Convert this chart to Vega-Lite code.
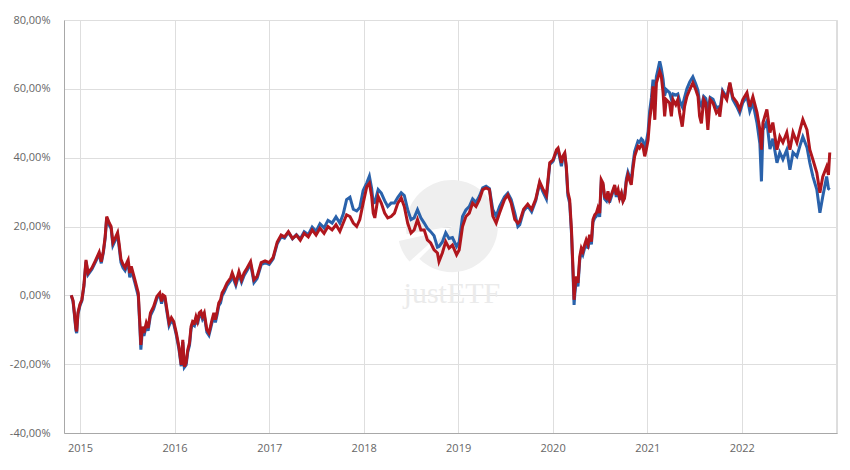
{
  "$schema": "https://vega.github.io/schema/vega-lite/v6.json",
  "width": 773,
  "height": 413,
  "autosize": {"type": "none"},
  "padding": {"left": 64, "top": 20, "right": 13, "bottom": 37},
  "background": "white",
  "config": {
    "view": {"stroke": "#dddddd", "strokeWidth": 1},
    "font": "Open Sans",
    "axis": {"labelFont": "Open Sans", "labelFontSize": 11, "labelColor": "#666666", "gridColor": "#dedede", "gridWidth": 1, "domainColor": "#a8a8a8", "ticks": false, "title": null}
  },
  "datasets": {
    "logo": [{"d": "2018-12-08", "v": 20.1}],
    "brand": [{"d": "2018-12-08", "v": -2.2, "t": "justETF"}],
    "perf": [
      {"d": "2014-11-28", "a": 0.0, "b": 0.0},
      {"d": "2014-12-05", "a": -1.8, "b": -1.5},
      {"d": "2014-12-10", "a": -5.5, "b": -5.0},
      {"d": "2014-12-16", "a": -10.2, "b": -9.5},
      {"d": "2014-12-19", "a": -11.0, "b": -10.5},
      {"d": "2014-12-24", "a": -5.5, "b": -5.0},
      {"d": "2015-01-01", "a": -2.9, "b": -2.5},
      {"d": "2015-01-08", "a": -1.6, "b": -1.3},
      {"d": "2015-01-16", "a": 2.6, "b": 3.0},
      {"d": "2015-01-24", "a": 9.8, "b": 10.3},
      {"d": "2015-02-01", "a": 6.0, "b": 6.5},
      {"d": "2015-02-16", "a": 7.6, "b": 8.0},
      {"d": "2015-03-01", "a": 9.6, "b": 10.0},
      {"d": "2015-03-16", "a": 12.0, "b": 12.5},
      {"d": "2015-03-24", "a": 9.3, "b": 9.8},
      {"d": "2015-04-01", "a": 12.4, "b": 12.8},
      {"d": "2015-04-08", "a": 16.5, "b": 17.0},
      {"d": "2015-04-14", "a": 22.5, "b": 22.9},
      {"d": "2015-04-24", "a": 20.3, "b": 21.0},
      {"d": "2015-05-01", "a": 19.4, "b": 20.0},
      {"d": "2015-05-08", "a": 14.5, "b": 15.3},
      {"d": "2015-05-16", "a": 15.8, "b": 16.5},
      {"d": "2015-05-26", "a": 17.6, "b": 18.2},
      {"d": "2015-06-01", "a": 14.0, "b": 15.0},
      {"d": "2015-06-08", "a": 9.6, "b": 10.5},
      {"d": "2015-06-16", "a": 8.0, "b": 9.0},
      {"d": "2015-06-24", "a": 7.2, "b": 8.0},
      {"d": "2015-07-01", "a": 8.6, "b": 9.5},
      {"d": "2015-07-06", "a": 9.5, "b": 10.3},
      {"d": "2015-07-12", "a": 5.2, "b": 6.5},
      {"d": "2015-07-18", "a": 7.5, "b": 8.4},
      {"d": "2015-08-01", "a": 3.6, "b": 4.5},
      {"d": "2015-08-14", "a": -0.2, "b": 0.7},
      {"d": "2015-08-20", "a": -9.0, "b": -8.0},
      {"d": "2015-08-24", "a": -15.8, "b": -14.4},
      {"d": "2015-08-30", "a": -10.0, "b": -9.1},
      {"d": "2015-09-05", "a": -11.8, "b": -10.9},
      {"d": "2015-09-14", "a": -8.8, "b": -8.0},
      {"d": "2015-09-21", "a": -10.3, "b": -9.5},
      {"d": "2015-09-30", "a": -5.9, "b": -5.1},
      {"d": "2015-10-12", "a": -4.0, "b": -3.3},
      {"d": "2015-10-25", "a": -0.9, "b": -0.3},
      {"d": "2015-11-05", "a": 0.2, "b": 0.7},
      {"d": "2015-11-12", "a": -2.4, "b": -1.8},
      {"d": "2015-11-18", "a": -0.5, "b": 0.1},
      {"d": "2015-11-25", "a": -0.9, "b": -0.3},
      {"d": "2015-12-01", "a": -4.0, "b": -3.3},
      {"d": "2015-12-11", "a": -8.8, "b": -8.0},
      {"d": "2015-12-20", "a": -7.2, "b": -6.5},
      {"d": "2015-12-29", "a": -8.3, "b": -7.6},
      {"d": "2016-01-08", "a": -11.6, "b": -10.9},
      {"d": "2016-01-18", "a": -15.6, "b": -14.9},
      {"d": "2016-01-27", "a": -20.6, "b": -20.2},
      {"d": "2016-02-02", "a": -13.6, "b": -12.9},
      {"d": "2016-02-08", "a": -20.9, "b": -20.7},
      {"d": "2016-02-15", "a": -20.2, "b": -19.6},
      {"d": "2016-02-21", "a": -16.6, "b": -15.9},
      {"d": "2016-02-28", "a": -14.5, "b": -13.8},
      {"d": "2016-03-05", "a": -9.8, "b": -9.1},
      {"d": "2016-03-11", "a": -8.3, "b": -7.6},
      {"d": "2016-03-18", "a": -8.8, "b": -8.0},
      {"d": "2016-03-24", "a": -6.9, "b": -6.2},
      {"d": "2016-03-30", "a": -8.4, "b": -7.6},
      {"d": "2016-04-06", "a": -5.8, "b": -5.1},
      {"d": "2016-04-12", "a": -5.3, "b": -4.7},
      {"d": "2016-04-18", "a": -6.9, "b": -6.2},
      {"d": "2016-04-25", "a": -5.8, "b": -5.1},
      {"d": "2016-05-05", "a": -10.7, "b": -10.0},
      {"d": "2016-05-13", "a": -11.6, "b": -10.9},
      {"d": "2016-05-19", "a": -9.8, "b": -9.1},
      {"d": "2016-05-25", "a": -7.9, "b": -7.1},
      {"d": "2016-06-01", "a": -5.9, "b": -5.1},
      {"d": "2016-06-07", "a": -7.9, "b": -7.1},
      {"d": "2016-06-14", "a": -5.5, "b": -4.7},
      {"d": "2016-06-20", "a": -3.0, "b": -2.2},
      {"d": "2016-06-27", "a": -2.2, "b": -1.3},
      {"d": "2016-07-03", "a": -0.1, "b": 0.7},
      {"d": "2016-07-10", "a": 0.8, "b": 1.6},
      {"d": "2016-07-16", "a": 1.8, "b": 2.6},
      {"d": "2016-07-22", "a": 2.8, "b": 3.6},
      {"d": "2016-08-05", "a": 4.3, "b": 5.1},
      {"d": "2016-08-11", "a": 5.8, "b": 6.5},
      {"d": "2016-08-25", "a": 2.9, "b": 3.6},
      {"d": "2016-09-06", "a": 6.1, "b": 6.9},
      {"d": "2016-09-16", "a": 3.8, "b": 4.5},
      {"d": "2016-09-26", "a": 5.8, "b": 6.5},
      {"d": "2016-10-08", "a": 7.3, "b": 8.0},
      {"d": "2016-10-21", "a": 9.1, "b": 9.8},
      {"d": "2016-10-27", "a": 6.7, "b": 7.4},
      {"d": "2016-11-03", "a": 3.7, "b": 4.5},
      {"d": "2016-11-15", "a": 4.9, "b": 5.5},
      {"d": "2016-12-01", "a": 8.9, "b": 9.5},
      {"d": "2016-12-16", "a": 9.5, "b": 10.0},
      {"d": "2017-01-01", "a": 9.0, "b": 9.5},
      {"d": "2017-01-16", "a": 10.6, "b": 11.0},
      {"d": "2017-02-01", "a": 15.0, "b": 15.5},
      {"d": "2017-02-16", "a": 17.0, "b": 17.5},
      {"d": "2017-03-01", "a": 16.6, "b": 17.0},
      {"d": "2017-03-16", "a": 18.3, "b": 18.5},
      {"d": "2017-04-01", "a": 16.4, "b": 16.5},
      {"d": "2017-04-16", "a": 17.6, "b": 17.5},
      {"d": "2017-05-01", "a": 16.4, "b": 16.0},
      {"d": "2017-05-16", "a": 18.5, "b": 18.0},
      {"d": "2017-06-01", "a": 17.6, "b": 17.0},
      {"d": "2017-06-16", "a": 19.8, "b": 19.0},
      {"d": "2017-07-01", "a": 18.6, "b": 17.5},
      {"d": "2017-07-16", "a": 20.8, "b": 19.5},
      {"d": "2017-08-01", "a": 19.6, "b": 18.0},
      {"d": "2017-08-16", "a": 21.8, "b": 20.0},
      {"d": "2017-09-01", "a": 21.0, "b": 19.0},
      {"d": "2017-09-16", "a": 22.8, "b": 20.5},
      {"d": "2017-10-01", "a": 21.0, "b": 18.6},
      {"d": "2017-10-14", "a": 23.6, "b": 21.0},
      {"d": "2017-10-27", "a": 27.8, "b": 23.4},
      {"d": "2017-11-09", "a": 28.5, "b": 22.9},
      {"d": "2017-11-22", "a": 25.0, "b": 21.0},
      {"d": "2017-12-05", "a": 24.5, "b": 20.0},
      {"d": "2017-12-17", "a": 25.5, "b": 22.0},
      {"d": "2017-12-30", "a": 30.5, "b": 26.8},
      {"d": "2018-01-13", "a": 32.7, "b": 31.6},
      {"d": "2018-01-23", "a": 34.6, "b": 32.6},
      {"d": "2018-02-01", "a": 31.0, "b": 28.7},
      {"d": "2018-02-07", "a": 26.8, "b": 23.9},
      {"d": "2018-02-13", "a": 27.0, "b": 22.5},
      {"d": "2018-02-26", "a": 30.7, "b": 28.7},
      {"d": "2018-03-10", "a": 29.7, "b": 26.8},
      {"d": "2018-03-23", "a": 27.5, "b": 23.9},
      {"d": "2018-04-04", "a": 25.8, "b": 22.5},
      {"d": "2018-04-17", "a": 26.8, "b": 22.9},
      {"d": "2018-04-30", "a": 26.8, "b": 23.9},
      {"d": "2018-05-13", "a": 28.5, "b": 26.8},
      {"d": "2018-05-26", "a": 29.8, "b": 28.3},
      {"d": "2018-06-07", "a": 29.0, "b": 25.8},
      {"d": "2018-06-20", "a": 24.9, "b": 21.0},
      {"d": "2018-07-03", "a": 22.0, "b": 18.1},
      {"d": "2018-07-15", "a": 22.5, "b": 19.0},
      {"d": "2018-07-28", "a": 24.9, "b": 22.0},
      {"d": "2018-08-10", "a": 22.5, "b": 19.0},
      {"d": "2018-08-23", "a": 21.0, "b": 19.0},
      {"d": "2018-09-04", "a": 19.5, "b": 16.1},
      {"d": "2018-09-17", "a": 18.5, "b": 15.2},
      {"d": "2018-09-30", "a": 17.3, "b": 13.2},
      {"d": "2018-10-13", "a": 14.0, "b": 12.3},
      {"d": "2018-10-19", "a": 14.2, "b": 9.8},
      {"d": "2018-11-01", "a": 15.5, "b": 12.3},
      {"d": "2018-11-14", "a": 18.2, "b": 15.6},
      {"d": "2018-11-27", "a": 16.5, "b": 13.7},
      {"d": "2018-12-10", "a": 16.8, "b": 14.6},
      {"d": "2018-12-26", "a": 14.2, "b": 11.8},
      {"d": "2019-01-05", "a": 15.5, "b": 13.2},
      {"d": "2019-01-18", "a": 22.9, "b": 20.0},
      {"d": "2019-01-31", "a": 24.8, "b": 22.9},
      {"d": "2019-02-13", "a": 25.8, "b": 23.9},
      {"d": "2019-02-26", "a": 28.0, "b": 26.8},
      {"d": "2019-03-11", "a": 27.0, "b": 25.8},
      {"d": "2019-03-24", "a": 28.8, "b": 27.8},
      {"d": "2019-04-06", "a": 31.2, "b": 30.7},
      {"d": "2019-04-19", "a": 31.7, "b": 31.2},
      {"d": "2019-05-02", "a": 31.0, "b": 30.7},
      {"d": "2019-05-15", "a": 24.9, "b": 23.0},
      {"d": "2019-05-28", "a": 23.0, "b": 21.0},
      {"d": "2019-06-10", "a": 25.8, "b": 23.9},
      {"d": "2019-06-29", "a": 28.6, "b": 27.8},
      {"d": "2019-07-12", "a": 29.7, "b": 29.2},
      {"d": "2019-07-25", "a": 27.8, "b": 26.8},
      {"d": "2019-08-08", "a": 23.9, "b": 22.0},
      {"d": "2019-08-20", "a": 20.0, "b": 21.0},
      {"d": "2019-08-27", "a": 20.5, "b": 21.5},
      {"d": "2019-09-11", "a": 24.5, "b": 25.0},
      {"d": "2019-09-27", "a": 26.0, "b": 26.5},
      {"d": "2019-10-12", "a": 24.3, "b": 25.0},
      {"d": "2019-10-28", "a": 27.5, "b": 28.0},
      {"d": "2019-11-12", "a": 32.6, "b": 33.0},
      {"d": "2019-11-24", "a": 30.2, "b": 31.0},
      {"d": "2019-12-08", "a": 28.0, "b": 29.0},
      {"d": "2019-12-21", "a": 38.0, "b": 38.5},
      {"d": "2020-01-03", "a": 39.0, "b": 39.4},
      {"d": "2020-01-16", "a": 41.8, "b": 42.3},
      {"d": "2020-01-22", "a": 42.3, "b": 42.8},
      {"d": "2020-01-29", "a": 39.8, "b": 40.5},
      {"d": "2020-02-04", "a": 37.5, "b": 38.5},
      {"d": "2020-02-10", "a": 40.0, "b": 40.5},
      {"d": "2020-02-17", "a": 41.0, "b": 41.4},
      {"d": "2020-02-23", "a": 36.8, "b": 37.5},
      {"d": "2020-02-29", "a": 29.0, "b": 30.0},
      {"d": "2020-03-07", "a": 26.8, "b": 27.8},
      {"d": "2020-03-14", "a": 18.0, "b": 19.0},
      {"d": "2020-03-20", "a": 6.0, "b": 7.4},
      {"d": "2020-03-24", "a": -2.8, "b": -1.3},
      {"d": "2020-03-27", "a": 0.5, "b": 2.0},
      {"d": "2020-04-02", "a": 4.5, "b": 5.5},
      {"d": "2020-04-08", "a": 2.6, "b": 3.6},
      {"d": "2020-04-15", "a": 10.3, "b": 11.3},
      {"d": "2020-04-21", "a": 12.8, "b": 13.7},
      {"d": "2020-04-27", "a": 11.8, "b": 12.7},
      {"d": "2020-05-04", "a": 13.8, "b": 14.7},
      {"d": "2020-05-10", "a": 15.2, "b": 16.1},
      {"d": "2020-05-17", "a": 13.6, "b": 14.7},
      {"d": "2020-05-23", "a": 16.8, "b": 17.6},
      {"d": "2020-05-30", "a": 14.8, "b": 15.6},
      {"d": "2020-06-05", "a": 21.3, "b": 22.0},
      {"d": "2020-06-12", "a": 22.5, "b": 23.4},
      {"d": "2020-06-18", "a": 23.0, "b": 23.9},
      {"d": "2020-06-24", "a": 24.6, "b": 25.4},
      {"d": "2020-07-01", "a": 22.8, "b": 23.9},
      {"d": "2020-07-07", "a": 33.0, "b": 33.6},
      {"d": "2020-07-14", "a": 32.0, "b": 32.6},
      {"d": "2020-07-20", "a": 28.0, "b": 28.7},
      {"d": "2020-07-27", "a": 27.4, "b": 28.2},
      {"d": "2020-08-02", "a": 29.6, "b": 30.2},
      {"d": "2020-08-08", "a": 27.0, "b": 27.8},
      {"d": "2020-08-15", "a": 28.6, "b": 29.2},
      {"d": "2020-08-28", "a": 31.6, "b": 32.1},
      {"d": "2020-09-03", "a": 28.6, "b": 29.2},
      {"d": "2020-09-10", "a": 30.2, "b": 30.7},
      {"d": "2020-09-16", "a": 27.8, "b": 28.2},
      {"d": "2020-09-23", "a": 29.5, "b": 29.7},
      {"d": "2020-09-29", "a": 27.5, "b": 27.3},
      {"d": "2020-10-05", "a": 28.6, "b": 28.2},
      {"d": "2020-10-12", "a": 33.8, "b": 33.1},
      {"d": "2020-10-18", "a": 35.8, "b": 35.0},
      {"d": "2020-10-24", "a": 34.5, "b": 33.6},
      {"d": "2020-10-31", "a": 33.2, "b": 32.1},
      {"d": "2020-11-06", "a": 37.8, "b": 36.5},
      {"d": "2020-11-13", "a": 41.8, "b": 40.4},
      {"d": "2020-11-19", "a": 43.2, "b": 41.8},
      {"d": "2020-11-26", "a": 44.8, "b": 43.3},
      {"d": "2020-12-02", "a": 44.5, "b": 42.8},
      {"d": "2020-12-09", "a": 45.5, "b": 43.8},
      {"d": "2020-12-15", "a": 45.0, "b": 43.3},
      {"d": "2020-12-22", "a": 42.5, "b": 40.4},
      {"d": "2020-12-28", "a": 44.5, "b": 42.3},
      {"d": "2021-01-04", "a": 47.5, "b": 45.2},
      {"d": "2021-01-10", "a": 53.5, "b": 51.0},
      {"d": "2021-01-17", "a": 57.5, "b": 55.0},
      {"d": "2021-01-23", "a": 62.7, "b": 60.7},
      {"d": "2021-01-30", "a": 57.0, "b": 51.0},
      {"d": "2021-02-05", "a": 63.5, "b": 61.7},
      {"d": "2021-02-11", "a": 65.5, "b": 63.2},
      {"d": "2021-02-18", "a": 68.0, "b": 65.0},
      {"d": "2021-02-24", "a": 66.0, "b": 63.7},
      {"d": "2021-03-03", "a": 62.7, "b": 58.8},
      {"d": "2021-03-09", "a": 58.0, "b": 52.0},
      {"d": "2021-03-15", "a": 59.8, "b": 56.9},
      {"d": "2021-03-28", "a": 58.9, "b": 55.9},
      {"d": "2021-04-04", "a": 57.0, "b": 52.0},
      {"d": "2021-04-10", "a": 58.5, "b": 56.9},
      {"d": "2021-04-21", "a": 58.2, "b": 55.4},
      {"d": "2021-04-29", "a": 58.5, "b": 56.9},
      {"d": "2021-05-06", "a": 56.5, "b": 53.0},
      {"d": "2021-05-16", "a": 54.8, "b": 49.0},
      {"d": "2021-05-25", "a": 57.5, "b": 54.9},
      {"d": "2021-06-03", "a": 60.0, "b": 57.8},
      {"d": "2021-06-14", "a": 62.0, "b": 59.8},
      {"d": "2021-06-26", "a": 63.5, "b": 61.7},
      {"d": "2021-07-07", "a": 61.5, "b": 59.8},
      {"d": "2021-07-16", "a": 59.5, "b": 57.8},
      {"d": "2021-07-22", "a": 55.8, "b": 52.0},
      {"d": "2021-07-29", "a": 55.0, "b": 50.0},
      {"d": "2021-08-07", "a": 57.8, "b": 56.9},
      {"d": "2021-08-15", "a": 57.2, "b": 55.9},
      {"d": "2021-08-23", "a": 53.5, "b": 48.1},
      {"d": "2021-09-01", "a": 57.5, "b": 56.9},
      {"d": "2021-09-12", "a": 57.0, "b": 55.9},
      {"d": "2021-09-25", "a": 54.5, "b": 53.0},
      {"d": "2021-10-05", "a": 54.8, "b": 54.0},
      {"d": "2021-10-08", "a": 53.5, "b": 51.9},
      {"d": "2021-10-19", "a": 59.5, "b": 58.9},
      {"d": "2021-11-04", "a": 57.5, "b": 56.9},
      {"d": "2021-11-16", "a": 61.5, "b": 61.8},
      {"d": "2021-11-27", "a": 57.0, "b": 57.7},
      {"d": "2021-12-13", "a": 54.8, "b": 56.0},
      {"d": "2021-12-24", "a": 53.0, "b": 54.0},
      {"d": "2022-01-05", "a": 56.0, "b": 56.9},
      {"d": "2022-01-21", "a": 57.8, "b": 58.9},
      {"d": "2022-02-01", "a": 53.5, "b": 54.8},
      {"d": "2022-02-13", "a": 56.0, "b": 57.7},
      {"d": "2022-03-01", "a": 50.0, "b": 53.1},
      {"d": "2022-03-12", "a": 44.0, "b": 48.1},
      {"d": "2022-03-18", "a": 33.1, "b": 42.3},
      {"d": "2022-03-24", "a": 48.1, "b": 50.2},
      {"d": "2022-04-08", "a": 50.5, "b": 54.0},
      {"d": "2022-04-20", "a": 42.5, "b": 47.3},
      {"d": "2022-05-01", "a": 45.5, "b": 50.2},
      {"d": "2022-05-17", "a": 38.5, "b": 42.3},
      {"d": "2022-05-28", "a": 41.5, "b": 46.1},
      {"d": "2022-06-09", "a": 39.5, "b": 44.4},
      {"d": "2022-06-24", "a": 42.3, "b": 47.3},
      {"d": "2022-07-06", "a": 36.5, "b": 42.3},
      {"d": "2022-07-18", "a": 41.5, "b": 47.3},
      {"d": "2022-08-02", "a": 40.3, "b": 44.4},
      {"d": "2022-08-14", "a": 43.5, "b": 48.1},
      {"d": "2022-08-25", "a": 46.1, "b": 51.1},
      {"d": "2022-09-10", "a": 43.0, "b": 48.1},
      {"d": "2022-09-21", "a": 38.5, "b": 42.3},
      {"d": "2022-10-03", "a": 34.5, "b": 39.4},
      {"d": "2022-10-18", "a": 30.7, "b": 35.6},
      {"d": "2022-10-30", "a": 24.0, "b": 29.8},
      {"d": "2022-11-10", "a": 28.7, "b": 34.5},
      {"d": "2022-11-25", "a": 34.5, "b": 37.4},
      {"d": "2022-12-02", "a": 31.0, "b": 35.0},
      {"d": "2022-12-07", "a": 30.7, "b": 41.5}
    ]
  },
  "encoding": {
    "x": {
      "field": "d",
      "type": "temporal",
      "scale": {"type": "utc", "domain": ["2014-10-31", "2023-01-04"], "nice": false},
      "axis": {"tickCount": "year", "labelExpr": "utcyear(datum.value) > 2022 ? '' : utcFormat(datum.value, '%Y')", "grid": true, "labelPadding": 9, "labelFlush": false, "domain": true, "title": null}
    }
  },
  "layer": [
    {
      "data": {"name": "logo"},
      "mark": {"type": "point", "shape": "M0,0 L-0.985,0.174 A1,1 0 1 1 -0.707,0.707 Z M-0.44,0.334 L-0.923,0.769 A1,1 0 0 1 -1.154,0.325 L-0.521,0.179 Z", "filled": true, "fill": "#efefef", "strokeWidth": 0, "size": 8464, "opacity": 1},
      "encoding": {
        "y": {"field": "v", "type": "quantitative", "scale": {"domain": [-40, 80], "nice": false, "zero": false},
          "axis": {"values": [-40, -20, 0, 20, 40, 60, 80], "labelExpr": "datum.value + ',00%'", "grid": true, "labelPadding": 14, "title": null}}
      }
    },
    {
      "data": {"name": "brand"},
      "mark": {"type": "text", "font": "Liberation Serif", "fontSize": 30, "color": "#ebebeb", "align": "center", "baseline": "alphabetic"},
      "encoding": {
        "y": {"field": "v", "type": "quantitative", "scale": {"domain": [-40, 80], "nice": false, "zero": false},
          "axis": {"values": [-40, -20, 0, 20, 40, 60, 80], "labelExpr": "datum.value + ',00%'", "grid": true, "labelPadding": 14, "title": null}},
        "text": {"field": "t"}
      }
    },
    {
      "data": {"name": "perf"},
      "mark": {"type": "line", "color": "#2a62ab", "strokeWidth": 3},
      "encoding": {
        "y": {"field": "a", "type": "quantitative", "scale": {"domain": [-40, 80], "nice": false, "zero": false},
          "axis": {"values": [-40, -20, 0, 20, 40, 60, 80], "labelExpr": "datum.value + ',00%'", "grid": true, "labelPadding": 14, "title": null}}
      }
    },
    {
      "data": {"name": "perf"},
      "mark": {"type": "line", "color": "#b0161d", "strokeWidth": 3},
      "encoding": {
        "y": {"field": "b", "type": "quantitative", "scale": {"domain": [-40, 80], "nice": false, "zero": false},
          "axis": {"values": [-40, -20, 0, 20, 40, 60, 80], "labelExpr": "datum.value + ',00%'", "grid": true, "labelPadding": 14, "title": null}}
      }
    }
  ]
}
